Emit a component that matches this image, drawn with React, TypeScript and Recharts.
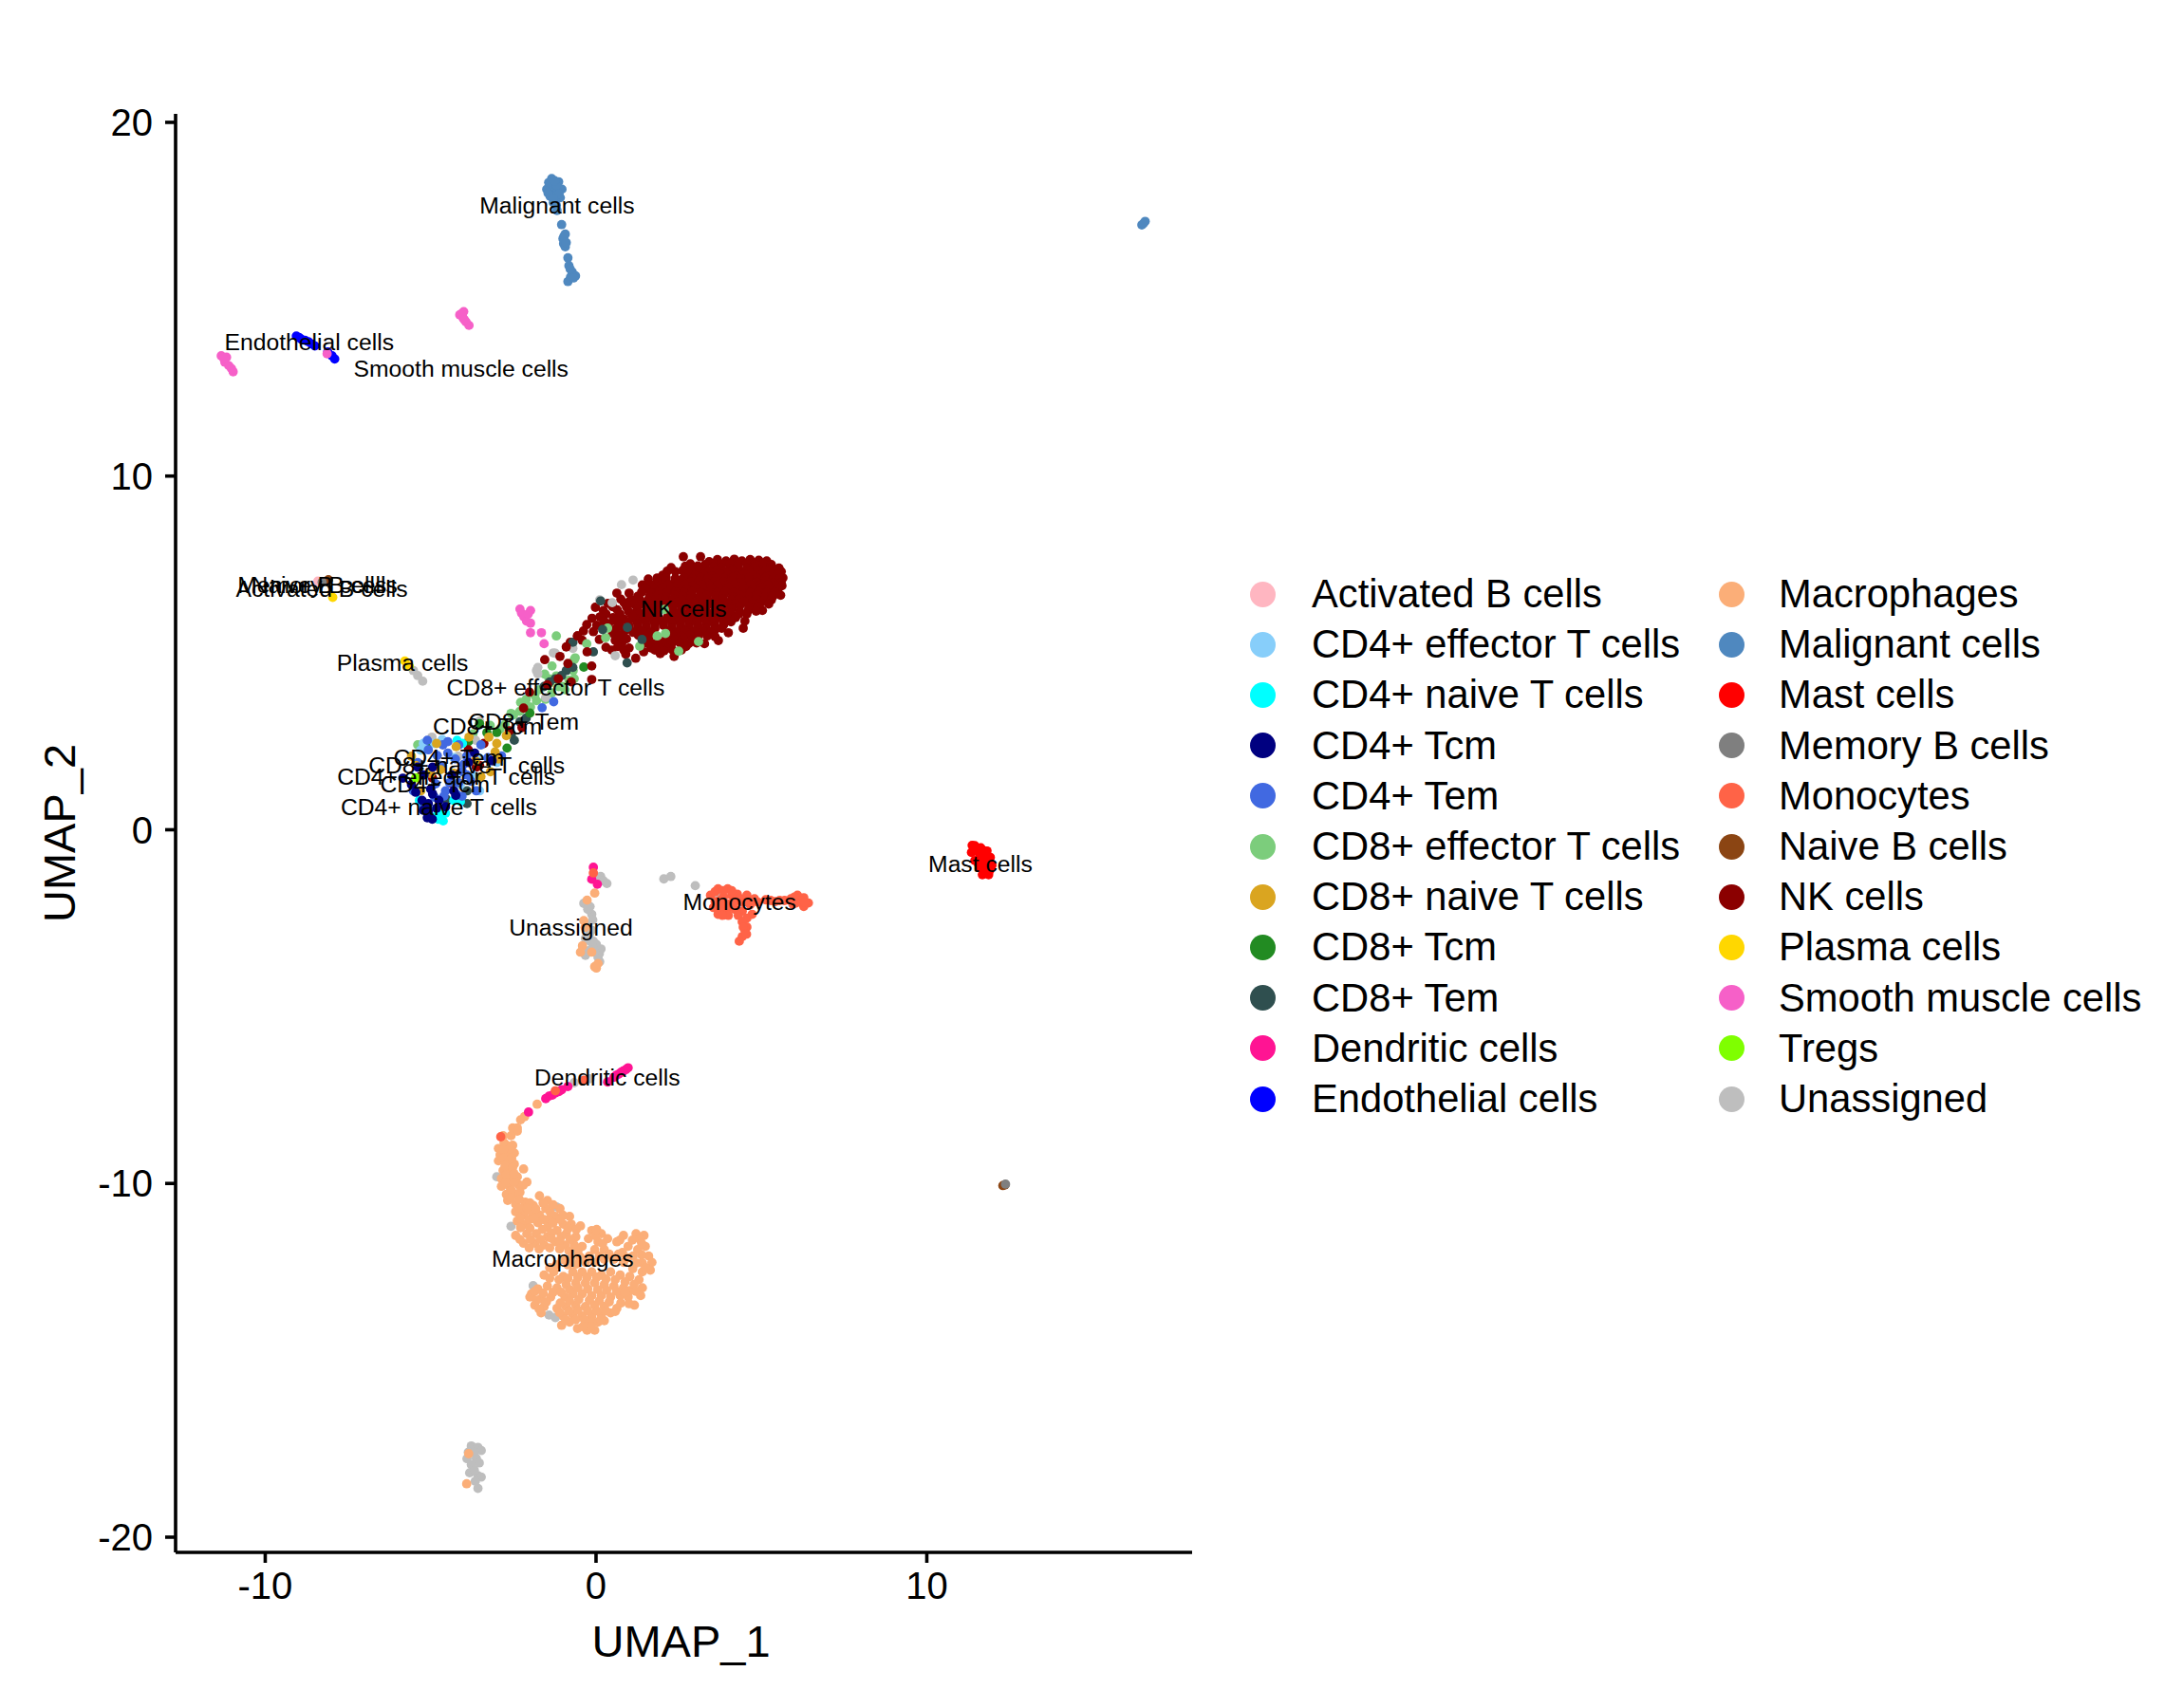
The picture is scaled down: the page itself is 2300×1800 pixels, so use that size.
import { ScatterChart, Scatter, XAxis, YAxis } from "recharts"

type Pair = [number, number]

const xTicks = [-10, 0, 10]
const yTicks = [-20, -10, 0, 10, 20]

const legendNames = [
  "Activated B cells", "CD4+ effector T cells", "CD4+ naive T cells", "CD4+ Tcm", "CD4+ Tem",
  "CD8+ effector T cells", "CD8+ naive T cells", "CD8+ Tcm", "CD8+ Tem", "Dendritic cells", "Endothelial cells",
  "Macrophages", "Malignant cells", "Mast cells", "Memory B cells", "Monocytes", "Naive B cells",
  "NK cells", "Plasma cells", "Smooth muscle cells", "Tregs", "Unassigned",
]
const legendColors = [
  "#FFB6C1", "#87CEFA", "#00FFFF", "#000080", "#4169E1",
  "#7CCD7C", "#DAA520", "#228B22", "#2F4F4F", "#FF1493", "#0000FF",
  "#FBAE78", "#4F88BF", "#FF0000", "#7F7F7F", "#FF6347", "#8B4513",
  "#8B0000", "#FFD700", "#F660C8", "#7FFF00", "#BEBEBE",
]

const activatedB: Pair[] = [[-8.41, 7.03], [-8.32, 6.98]]
const memoryB: Pair[] = [[-8.28, 7.0], [12.38, -10.02]]
const naiveB: Pair[] = [[-8.09, 7.07], [12.36, -10.04], [12.3, -10.06]]
const plasma: Pair[] = [[-7.96, 6.57], [-5.78, 4.77], [-5.65, 4.63]]
const tregs: Pair[] = [[-5.45, 1.47]]

const malignant: Pair[] = [
  [-1.34, 18.41], [-1.13, 18.32], [-1.49, 18.11], [-1.03, 18.11], [-1.29, 18.2], [-1.39, 17.91], [-1.08, 17.87],
  [-1.29, 17.73], [-1.18, 17.51], [-1.34, 18.0], [-1.18, 18.05], [-1.23, 17.87], [-1.43, 18.3], [-1.2, 18.22],
  [-1.45, 18.0], [-1.12, 17.98], [-1.3, 17.85], [-1.2, 17.65], [-1.25, 18.35],
  [-1.04, 17.11], [-0.93, 16.84], [-1.0, 16.71], [-0.98, 16.57], [-0.93, 16.48], [-0.97, 16.78], [-0.9, 16.6],
  [-0.85, 16.17], [-0.82, 15.95], [-0.72, 15.77], [-0.62, 15.66], [-0.77, 15.63], [-0.85, 15.5], [-0.78, 15.85], [-0.68, 15.6],
  [16.6, 17.2], [16.5, 17.1], [16.55, 17.14],
]
const endothelial: Pair[] = [
  [-9.06, 13.96], [-8.91, 13.87], [-8.8, 13.84], [-8.7, 13.8], [-8.5, 13.68], [-8.11, 13.51], [-7.98, 13.4], [-7.9, 13.31], [-8.98, 13.92], [-8.6, 13.74],
]
const smoothMuscle: Pair[] = [
  [-11.33, 13.4], [-11.17, 13.36], [-11.22, 13.22], [-11.02, 13.04], [-10.97, 12.95], [-11.25, 13.32], [-11.1, 13.12], [-8.13, 13.46],
  [-4.0, 14.65], [-4.12, 14.56], [-4.02, 14.47], [-3.93, 14.36], [-3.84, 14.26], [-4.05, 14.6], [-3.98, 14.42],
  [-2.3, 6.24], [-1.98, 6.2], [-2.18, 6.02], [-1.98, 5.84], [-1.98, 5.57], [-1.65, 5.57], [-1.57, 5.26], [-2.25, 6.12], [-2.1, 5.9], [-2.05, 6.1],
]
const mast: Pair[] = [
  [11.37, -0.44], [11.45, -0.45], [11.63, -0.51], [11.5, -0.6], [11.7, -0.58], [11.82, -0.6], [11.35, -0.64], [11.6, -0.75], [11.78, -0.74],
  [11.92, -0.78], [11.45, -0.87], [11.68, -0.9], [11.85, -0.88], [11.97, -1.0], [11.59, -1.05], [11.72, -1.04], [11.82, -1.09],
  [11.68, -1.27], [11.87, -1.27], [11.75, -1.18], [11.55, -0.95], [11.9, -1.15],
]
const monocytes: Pair[] = [
  [3.46, -1.85], [3.69, -1.67], [3.98, -1.67], [3.6, -2.03], [3.85, -1.9], [4.1, -1.85], [4.27, -1.82], [4.56, -1.85], [4.79, -1.95],
  [3.75, -2.21], [3.98, -2.1], [4.2, -2.03], [4.45, -2.05], [4.66, -2.12], [3.69, -2.39], [3.95, -2.32], [4.2, -2.25], [4.42, -2.3], [4.72, -2.39],
  [4.3, -2.42], [4.56, -2.5], [4.42, -2.6], [4.56, -2.75], [4.5, -2.84], [4.42, -3.02], [4.33, -3.15],
  [5.13, -1.98], [5.42, -2.03], [5.7, -2.0], [5.89, -1.95], [6.09, -1.85], [6.28, -1.92], [6.42, -2.07], [6.28, -2.17], [6.05, -2.07],
  [3.6, -1.75], [3.85, -1.72], [4.1, -1.72], [3.75, -2.0], [3.55, -2.2], [3.85, -2.2], [4.1, -2.15], [4.35, -1.95], [4.6, -2.0], [4.9, -2.05],
  [4.0, -2.42], [3.82, -2.42], [4.45, -2.75], [4.55, -2.95], [5.28, -2.0], [5.55, -2.0], [5.95, -2.1], [6.18, -2.0], [6.3, -2.05], [6.0, -1.9],
  [-0.37, -7.08], [-1.23, -7.38], [-2.88, -8.68], [-0.08, -1.22],
]
const macrophages: Pair[] = [
  [-1.78, -7.76], [-2.16, -8.11], [-2.28, -8.2], [-2.52, -8.43], [-2.38, -8.43], [-2.38, -8.52], [-2.81, -8.65], [-2.57, -8.65],
  [-2.95, -9.01], [-2.71, -8.92], [-2.52, -8.92], [-2.9, -9.19], [-2.67, -9.14], [-2.47, -9.14], [-2.95, -9.36], [-2.67, -9.36],
  [-2.47, -9.45], [-2.19, -9.59], [-2.81, -9.63], [-2.62, -9.63], [-2.86, -9.86], [-2.62, -9.86], [-2.38, -9.81], [-2.09, -9.96],
  [-2.86, -10.08], [-2.62, -10.08], [-2.33, -10.04], [-2.71, -10.31], [-2.47, -10.31], [-2.67, -10.48], [-2.43, -10.58], [-2.14, -10.53],
  [-1.9, -10.62], [-1.71, -10.35], [-1.47, -10.48], [-1.52, -10.71], [-1.09, -10.71], [-1.23, -10.93], [-0.8, -10.93], [-0.47, -11.2],
  [-2.43, -10.8], [-2.19, -10.89], [-1.95, -10.8], [-1.71, -10.89], [-1.42, -11.02], [-0.99, -11.15], [-0.75, -11.15],
  [-2.38, -11.06], [-2.14, -11.15], [-1.76, -11.11], [-1.47, -11.24], [-1.18, -11.33], [-0.9, -11.42], [-0.61, -11.51],
  [-2.43, -11.47], [-2.09, -11.42], [-1.81, -11.42], [-1.47, -11.51], [-2.19, -11.69], [-1.85, -11.69], [-1.57, -11.74],
  [-1.23, -11.65], [-0.94, -11.74], [-0.66, -11.74], [-0.42, -11.78],
  [-0.13, -11.33], [0.16, -11.42], [-0.23, -11.56], [0.06, -11.65], [0.35, -11.56], [-0.04, -11.87], [0.25, -11.87],
  [0.83, -11.47], [1.21, -11.42], [1.45, -11.47], [0.63, -11.65], [0.97, -11.78], [1.49, -11.78], [1.26, -11.87],
  [1.59, -12.05], [1.69, -12.23], [1.64, -12.45], [1.4, -12.5], [1.11, -12.41], [0.83, -12.23], [0.54, -12.14], [0.25, -12.14],
  [-0.04, -12.23], [-0.32, -12.23], [-0.6, -12.28], [-0.85, -12.3], [-1.2, -12.3],
  [-1.57, -12.59], [-1.28, -12.5], [-0.99, -12.63], [-0.7, -12.5], [-0.42, -12.5], [-0.13, -12.5], [0.16, -12.59], [0.44, -12.5],
  [0.73, -12.59], [1.02, -12.63], [1.3, -12.72], [1.4, -12.95], [1.35, -13.17], [1.16, -13.44],
  [-1.95, -13.12], [-1.76, -12.98], [-1.47, -12.9], [-1.18, -12.95], [-0.9, -12.86], [-0.61, -12.81], [-0.32, -12.81], [-0.04, -12.81],
  [0.25, -12.86], [0.54, -12.9], [0.83, -12.95], [1.02, -13.03],
  [-2.0, -13.21], [-1.66, -13.26], [-1.37, -13.21], [-0.94, -13.21], [-0.7, -13.12], [-0.42, -13.12], [-0.13, -13.17], [0.16, -13.17],
  [0.44, -13.21], [0.73, -13.17], [0.97, -13.21],
  [-1.85, -13.44], [-1.57, -13.48], [-1.18, -13.53], [-0.9, -13.48], [-0.61, -13.44], [-0.32, -13.48], [-0.04, -13.44], [0.25, -13.48], [0.63, -13.53],
  [-1.66, -13.66], [-0.99, -13.75], [-0.7, -13.7], [-0.42, -13.75], [-0.13, -13.75], [0.16, -13.7], [0.44, -13.66],
  [-1.04, -14.01], [-0.8, -13.92], [-0.56, -14.1], [-0.27, -14.15], [-0.04, -14.15], [0.25, -13.88], [0.06, -13.92], [-0.27, -13.92],
  [-2.78, -8.85], [-2.6, -9.0], [-2.8, -9.05], [-2.8, -9.28], [-2.55, -9.28], [-2.75, -9.5], [-2.52, -9.55], [-2.72, -9.75], [-2.48, -9.72],
  [-2.72, -9.97], [-2.48, -9.97], [-2.2, -10.05], [-2.55, -10.2], [-2.3, -10.25], [-2.58, -10.4], [-2.32, -10.45], [-2.0, -10.55],
  [-2.3, -10.7], [-2.08, -10.7], [-1.82, -10.72], [-1.6, -10.55], [-1.3, -10.6], [-1.38, -10.82], [-1.0, -10.9], [-2.3, -10.98], [-2.02, -11.02],
  [-1.88, -11.0], [-1.58, -11.02], [-1.3, -11.12], [-1.08, -11.02], [-0.85, -11.28], [-0.6, -11.3], [-2.28, -11.25], [-2.0, -11.26], [-1.62, -11.3],
  [-1.35, -11.4], [-1.05, -11.5], [-0.78, -11.58], [-2.3, -11.58], [-1.98, -11.58], [-1.68, -11.58], [-1.35, -11.55], [-1.1, -11.62],
  [-2.02, -11.82], [-1.72, -11.85], [-1.4, -11.82], [-1.1, -11.85], [-0.82, -11.9], [-0.55, -11.92],
  [-0.02, -11.48], [0.2, -11.7], [0.02, -11.3], [0.72, -11.6], [1.1, -11.6], [1.33, -11.58], [1.38, -11.7], [0.8, -11.95], [1.12, -12.05], [1.38, -12.02],
  [1.4, -12.25], [1.5, -12.38], [1.22, -12.25], [0.95, -12.1], [0.68, -12.0], [0.4, -12.0], [0.1, -12.05], [-0.2, -12.05], [-0.48, -12.08], [-0.75, -12.1],
  [-1.02, -12.15], [-1.4, -12.38],
  [-1.4, -12.68], [-1.12, -12.72], [-0.85, -12.68], [-0.55, -12.65], [-0.27, -12.65], [0.02, -12.65], [0.3, -12.7], [0.58, -12.72], [0.88, -12.78], [1.15, -12.85], [1.2, -13.05],
  [-1.85, -13.05], [-1.6, -13.1], [-1.3, -13.08], [-1.05, -13.08], [-0.8, -13.0], [-0.55, -12.95], [-0.25, -12.98], [0.05, -13.0], [0.32, -13.02], [0.62, -13.05], [0.88, -13.08],
  [-1.8, -13.3], [-1.5, -13.35], [-1.08, -13.38], [-0.8, -13.32], [-0.52, -13.28], [-0.2, -13.3], [0.1, -13.32], [0.4, -13.35], [0.75, -13.38], [1.0, -13.4],
  [-1.72, -13.55], [-1.1, -13.65], [-0.82, -13.6], [-0.55, -13.58], [-0.25, -13.6], [0.02, -13.6], [0.3, -13.6], [0.58, -13.62],
  [-0.92, -13.85], [-0.62, -13.85], [-0.35, -13.85], [-0.12, -13.92], [0.14, -13.85], [-0.4, -14.05], [-0.15, -14.05],
  [-0.04, -1.79], [-0.27, -1.99], [-0.37, -2.57], [-0.33, -2.76], [-0.41, -3.28], [-0.47, -3.46], [-0.13, -3.46],
  [-0.04, -3.87], [0.01, -3.91], [0.06, -3.78], [-3.91, -18.49], [-3.85, -17.64],
]
const dendritic: Pair[] = [
  [0.97, -6.73], [0.82, -6.82], [0.68, -6.91], [0.54, -7.0], [0.35, -7.13], [-0.85, -7.26], [-1.04, -7.35], [-1.23, -7.44],
  [-1.42, -7.53], [-1.52, -7.6], [-2.04, -7.98], [-0.08, -1.06], [-0.13, -1.4], [0.04, -1.54], [0.9, -6.78], [0.75, -6.86], [0.6, -6.95], [-1.12, -7.4], [-1.32, -7.5],
]
const unassigned: Pair[] = [
  [-0.66, -7.15], [-0.18, -7.04], [-3.0, -9.81], [-1.2, -10.66], [-2.57, -11.21], [-1.9, -12.89], [-1.42, -13.72], [-1.23, -13.79],
  [0.14, -1.32], [0.23, -1.45], [0.33, -1.52], [0.01, -1.4], [-0.37, -2.08], [-0.18, -2.17], [-0.13, -2.39], [-0.27, -2.7],
  [-0.13, -2.84], [-0.32, -3.07], [-0.08, -3.15], [0.01, -3.24], [0.15, -3.37], [-0.32, -3.55], [0.06, -3.6], [0.11, -3.73],
  [-0.2, -2.95], [-0.1, -3.3], [-0.22, -3.42], [-0.1, -2.55], [-0.25, -2.25], [-0.18, -3.15], [0.1, -3.5], [-0.05, -3.45],
  [2.05, -1.39], [2.26, -1.32], [3.0, -1.58], [3.69, -1.8],
  [-5.52, 4.5], [-5.39, 4.36], [-5.24, 4.2],
  [-3.77, -17.42], [-3.57, -17.46], [-3.86, -17.6], [-3.47, -17.55], [-3.9, -17.78], [-3.62, -17.77], [-3.77, -17.95], [-3.53, -17.9], [-3.68, -17.6],
  [-3.82, -18.18], [-3.57, -18.26], [-3.68, -18.1], [-3.47, -18.3], [-3.57, -18.62], [-3.65, -18.42],
  [-1.76, 4.59], [-1.76, 4.41], [-1.23, 4.99], [-0.7, 5.13], [-1.52, 3.74], [-3.52, 3.07], [-4.96, 2.62], [-3.64, 2.53], [-4.17, 2.08],
  [1.12, 7.06], [0.77, 6.93], [0.11, 6.5], [0.49, 6.42], [0.58, 4.92], [-0.71, 5.16], [-1.29, 5.0], [-1.8, 4.5],
]
const nkCells: Pair[] = [
  [2.64, 7.72], [3.16, 7.72], [3.42, 7.58], [3.67, 7.64], [3.93, 7.6], [4.18, 7.65], [4.41, 7.6], [4.66, 7.64], [4.92, 7.62], [5.16, 7.6],
  [2.85, 7.52], [3.3, 7.5], [3.55, 7.53], [3.8, 7.5], [4.05, 7.52], [4.3, 7.5], [4.55, 7.53], [4.8, 7.5], [5.05, 7.52], [5.3, 7.5],
  [2.27, 7.41], [2.7, 7.45], [2.93, 7.4], [3.08, 7.46], [3.31, 7.38], [3.56, 7.44], [3.79, 7.41], [4.04, 7.37], [4.29, 7.44], [4.56, 7.4], [4.8, 7.43], [5.06, 7.38], [5.31, 7.42], [5.53, 7.4],
  [2.15, 7.31], [2.4, 7.3], [2.62, 7.33], [2.88, 7.3], [3.15, 7.31], [3.4, 7.3], [3.65, 7.32], [3.9, 7.3], [4.13, 7.32], [4.38, 7.3], [4.64, 7.31], [4.88, 7.3], [5.13, 7.32], [5.38, 7.3], [5.6, 7.3],
  [2.02, 7.2], [2.8, 7.24], [3.0, 7.19], [3.25, 7.22], [3.5, 7.18], [3.74, 7.24], [3.99, 7.2], [4.24, 7.17], [4.49, 7.23], [4.75, 7.19], [5.0, 7.22], [5.24, 7.18], [5.5, 7.24], [5.65, 7.12],
  [1.85, 7.12], [2.12, 7.13], [2.4, 7.11], [2.65, 7.13], [2.92, 7.1], [3.17, 7.13], [3.4, 7.1], [3.64, 7.12], [3.88, 7.11], [4.12, 7.13], [4.38, 7.1], [4.62, 7.12], [4.88, 7.11], [5.12, 7.13], [5.38, 7.1], [5.58, 7.12],
  [1.58, 7.09], [1.85, 7.02], [2.1, 7.04], [2.36, 6.99], [2.6, 7.03], [2.86, 7.0], [3.12, 7.04], [3.36, 6.98], [3.6, 7.02], [3.86, 7.0], [4.1, 7.04], [4.36, 6.98], [4.6, 7.02], [4.86, 7.0], [5.12, 7.03], [5.36, 6.98], [5.6, 6.98],
  [1.4, 6.92], [1.65, 6.93], [1.92, 6.9], [2.18, 6.92], [2.44, 6.9], [2.7, 6.93], [2.94, 6.91], [3.2, 6.92], [3.44, 6.9], [3.68, 6.92], [3.94, 6.9], [4.18, 6.93], [4.44, 6.9], [4.68, 6.92], [4.94, 6.9], [5.2, 6.92], [5.44, 6.9], [5.62, 6.9],
  [1.5, 6.82], [1.76, 6.78], [2.0, 6.84], [2.24, 6.8], [2.5, 6.82], [2.74, 6.78], [3.0, 6.84], [3.24, 6.8], [3.48, 6.82], [3.74, 6.78], [3.98, 6.84], [4.24, 6.8], [4.48, 6.82], [4.74, 6.78], [5.0, 6.84], [5.24, 6.8], [5.5, 6.8],
  [1.38, 6.72], [1.64, 6.7], [1.9, 6.73], [2.14, 6.7], [2.4, 6.72], [2.66, 6.7], [2.9, 6.73], [3.16, 6.7], [3.42, 6.72], [3.66, 6.7], [3.92, 6.73], [4.16, 6.7], [4.42, 6.72], [4.66, 6.7], [4.92, 6.73], [5.16, 6.7], [5.42, 6.72],
  [1.0, 6.69], [0.63, 6.69], [1.26, 6.6], [1.62, 6.6], [1.88, 6.64], [2.12, 6.58], [2.38, 6.62], [2.62, 6.6], [2.88, 6.64], [3.12, 6.58], [3.36, 6.62], [3.62, 6.6], [3.86, 6.64], [4.12, 6.58], [4.36, 6.62], [4.6, 6.6], [4.86, 6.64], [5.1, 6.58], [5.36, 6.62], [5.58, 6.63],
  [0.75, 6.52], [1.05, 6.5], [1.32, 6.52], [1.58, 6.5], [1.84, 6.53], [2.08, 6.5], [2.34, 6.52], [2.6, 6.5], [2.84, 6.53], [3.1, 6.5], [3.34, 6.52], [3.6, 6.5], [3.84, 6.53], [4.1, 6.5], [4.34, 6.52], [4.6, 6.5], [4.84, 6.53], [5.1, 6.5], [5.3, 6.5],
  [-0.02, 6.29], [0.36, 6.4], [0.85, 6.42], [1.14, 6.38], [1.4, 6.42], [1.7, 6.38], [1.96, 6.42], [2.2, 6.4], [2.46, 6.44], [2.72, 6.38], [2.98, 6.42], [3.22, 6.4], [3.48, 6.44], [3.72, 6.38], [3.98, 6.42], [4.22, 6.4], [4.48, 6.44], [4.74, 6.38], [4.98, 6.42], [5.22, 6.38],
  [0.5, 6.31], [0.92, 6.3], [1.28, 6.32], [1.56, 6.3], [1.82, 6.31], [2.08, 6.3], [2.32, 6.32], [2.58, 6.3], [2.84, 6.31], [3.1, 6.3], [3.34, 6.32], [3.6, 6.3], [3.86, 6.31], [4.1, 6.3], [4.34, 6.32], [4.62, 6.3], [4.9, 6.3],
  [0.22, 6.2], [0.64, 6.22], [0.98, 6.18], [1.24, 6.22], [1.52, 6.18], [1.78, 6.24], [2.34, 6.18], [2.58, 6.22], [2.84, 6.2], [3.1, 6.24], [3.34, 6.18], [3.6, 6.22], [3.84, 6.2], [4.1, 6.24], [4.34, 6.18], [4.6, 6.2], [5.03, 6.2], [4.84, 6.18],
  [0.3, 6.1], [0.72, 6.1], [1.06, 6.1], [1.32, 6.12], [1.6, 6.1], [1.86, 6.1], [2.28, 6.1], [2.54, 6.12], [2.8, 6.1], [3.04, 6.1], [3.3, 6.12], [3.56, 6.1], [3.8, 6.1], [4.06, 6.12], [4.32, 6.1], [4.56, 6.1],
  [-0.12, 5.98], [0.12, 6.02], [0.52, 6.0], [0.84, 5.96], [1.12, 6.02], [1.38, 5.98], [1.64, 6.02], [1.9, 5.98], [2.16, 6.02], [2.42, 5.98], [2.68, 6.02], [2.94, 5.98], [3.2, 6.02], [3.44, 5.98], [3.7, 6.02], [3.96, 5.98], [4.22, 6.0], [4.5, 5.9],
  [0.24, 5.9], [0.62, 5.9], [0.98, 5.88], [1.24, 5.9], [1.5, 5.9], [1.76, 5.9], [2.02, 5.88], [2.28, 5.9], [2.54, 5.9], [2.8, 5.9], [3.06, 5.88], [3.32, 5.9], [3.58, 5.9], [3.84, 5.9], [4.08, 5.88],
  [-0.28, 5.8], [0.02, 5.78], [0.38, 5.82], [0.72, 5.8], [1.0, 5.76], [1.26, 5.82], [1.52, 5.78], [1.78, 5.82], [2.04, 5.78], [2.3, 5.82], [2.56, 5.78], [2.82, 5.82], [3.08, 5.78], [3.34, 5.82], [3.6, 5.76], [3.86, 5.8], [4.45, 5.7],
  [0.22, 5.7], [0.62, 5.7], [0.98, 5.68], [1.26, 5.7], [1.52, 5.7], [1.78, 5.7], [2.3, 5.7], [2.56, 5.68], [2.82, 5.7], [3.08, 5.7], [3.34, 5.68], [3.6, 5.66], [3.8, 5.7],
  [-0.56, 5.48], [-0.38, 5.62], [-0.08, 5.6], [0.5, 5.56], [0.86, 5.62], [1.12, 5.58], [1.4, 5.62], [1.66, 5.58], [2.18, 5.62], [2.44, 5.58], [2.7, 5.62], [2.96, 5.58], [3.22, 5.62], [3.48, 5.58], [4.0, 5.57],
  [0.72, 5.5], [1.28, 5.5], [1.54, 5.5], [2.32, 5.5], [2.58, 5.48], [2.84, 5.5], [3.1, 5.5], [3.36, 5.48], [3.6, 5.46],
  [-0.78, 5.3], [-0.42, 5.36], [0.1, 5.38], [0.58, 5.36], [0.92, 5.4], [1.6, 5.38], [1.86, 5.32], [2.12, 5.4], [2.38, 5.36], [2.64, 5.4], [2.9, 5.36], [3.7, 5.35],
  [0.78, 5.28], [1.5, 5.28], [1.76, 5.25], [2.02, 5.28], [2.28, 5.26], [2.54, 5.28], [2.8, 5.26], [3.04, 5.28], [3.28, 5.26],
  [0.3, 5.16], [0.66, 5.18], [1.0, 5.14], [1.66, 5.14], [1.92, 5.18], [2.18, 5.14], [2.72, 5.18], [1.44, 5.03], [1.94, 4.98], [0.9, 4.96], [2.36, 4.9], [1.2, 4.85],
  [0.48, 5.08], [0.84, 5.08], [1.78, 5.08], [2.06, 5.06], [2.32, 5.08], [2.58, 5.08],
]
const nkStrand: Pair[] = [
  [-1.55, 4.81], [-1.09, 4.9], [-0.85, 4.7], [-0.9, 5.17], [-0.56, 5.48], [-0.13, 4.25], [-0.13, 4.63], [-0.27, 5.03], [-1.14, 4.27], [-0.75, 4.18],
  [-1.47, 4.1], [-2.01, 3.89], [-2.19, 3.44], [-2.62, 2.8], [-2.24, 2.89], [-3.39, 2.44], [-3.86, 2.26], [-3.62, 1.77], [-3.52, 1.82], [-4.94, 1.46], [-4.4, 1.32],
]
const cd8Effector: Pair[] = [
  [3.1, 5.32], [2.5, 5.05], [1.85, 5.48], [1.32, 5.19], [-1.2, 5.48], [0.29, 5.43], [-0.28, 5.26], [2.07, 6.23], [2.1, 5.55], [0.35, 5.7],
  [-1.33, 4.63], [-0.66, 4.81], [-0.66, 4.27], [-1.42, 4.27], [-0.94, 3.96], [-1.13, 4.05], [-1.8, 3.65], [-2.28, 3.6], [-2.1, 3.51], [-2.57, 3.29],
  [-0.63, 4.86], [-1.4, 4.14], [-1.72, 3.96], [-2.11, 3.69], [-1.98, 3.47], [-1.53, 3.69], [-1.34, 3.87], [-1.01, 4.05], [-0.82, 4.23],
  [-0.69, 4.5], [-2.49, 3.25], [-2.75, 2.98], [-5.39, 2.4], [-3.72, 2.71], [-1.55, 4.4], [-1.2, 4.35], [-1.85, 3.8], [-2.3, 3.35], [-2.9, 2.85], [-3.2, 2.95],
]
const cd8Tem: Pair[] = [
  [-0.9, 4.5], [-1.04, 4.36], [-0.7, 4.59], [-1.23, 4.27], [-1.57, 4.05], [-1.4, 4.18], [0.2, 5.66], [-0.08, 5.03], [-0.7, 5.3], [0.94, 4.72], [1.39, 5.38], [0.14, 6.47],
  [-2.11, 3.16], [-2.47, 2.53], [-2.56, 2.71], [-3.9, 1.1], [-4.53, 0.87], [-3.9, 0.74], [0.95, 5.72], [-2.3, 3.05],
]
const cd8Tcm: Pair[] = [[-0.37, 4.6], [-3.86, 2.49], [-2.69, 2.31], [-3.52, 3.0], [-5.1, 2.32], [-3.0, 2.75], [-2.0, 3.3], [-3.3, 2.75]]
const cd8Naive: Pair[] = [
  [-3.84, 2.62], [-3.24, 2.62], [-3.0, 2.44], [-2.71, 2.66], [-4.82, 2.44], [-4.23, 2.35], [-5.58, 2.08], [-5.45, 1.82], [-3.19, 1.64],
  [-5.0, 1.59], [-3.65, 1.95], [-5.3, 1.1], [-4.3, 1.6], [-3.05, 2.2], [-3.48, 1.5], [-4.7, 1.7], [-2.95, 2.0],
]
const cd4Tem: Pair[] = [
  [-1.63, 3.45], [-1.28, 3.62], [-2.86, 2.09], [-3.48, 2.4], [-5.1, 2.53], [-4.48, 2.49], [-4.63, 2.4], [-4.15, 2.4], [-3.91, 2.08], [-4.68, 1.82], [-5.39, 1.9],
  [-5.52, 1.1], [-4.55, 1.1], [-4.04, 1.64], [-3.78, 1.37], [-4.88, 0.92], [-4.23, 1.01], [-5.07, 2.26], [-3.27, 2.04], [-4.48, 2.17], [-4.25, 2.0], [-4.43, 1.33],
  [-4.15, 1.33], [-3.91, 1.55], [-3.62, 1.1], [-4.85, 1.3], [-4.05, 0.95], [-5.2, 0.65], [-4.6, 0.95], [-4.8, 2.1], [-4.0, 1.85],
]
const cd4Tcm: Pair[] = [
  [-5.1, 0.34], [-5.07, 0.52], [-5.26, 0.83], [-5.45, 1.06], [-4.94, 1.01], [-5.84, 1.46], [-4.94, 1.77], [-4.75, 0.83], [-5.07, 0.74],
  [-5.58, 1.28], [-3.67, 2.17], [-3.14, 1.95], [-4.3, 1.1], [-4.55, 0.65], [-4.82, 0.61], [-5.2, 1.55], [-4.36, 1.55], [-5.0, 1.15], [-5.39, 1.77], [-4.24, 0.97],
  [-3.85, 1.9], [-5.22, 0.55], [-4.95, 0.3],
]
const cd4Naive: Pair[] = [
  [-4.77, 0.3], [-4.84, 0.38], [-4.68, 0.43], [-4.2, 2.53], [-4.04, 2.44], [-4.3, 0.83], [-4.55, 0.47], [-4.1, 0.8], [-5.34, 0.83], [-5.25, 0.65], [-4.62, 0.25],
]
const cd4Effector: Pair[] = [
  [-5.22, 2.44], [-4.3, 2.04], [-3.52, 1.1], [-3.0, 1.9], [-4.1, 1.28], [-4.88, 2.44], [-3.72, 1.55], [-3.6, 2.05], [-4.65, 2.55], [-5.3, 2.25],
]

const labelNames = [
  "Malignant cells", "Endothelial cells", "Smooth muscle cells", "Memory B cells", "Naive B cells", "Activated B cells",
  "Plasma cells", "NK cells", "CD8+ effector T cells", "CD8+ Tem", "CD8+ Tcm", "CD4+ Tem", "CD8+ naive T cells",
  "CD4+ effector T cells", "CD4+ Tcm", "CD4+ naive T cells", "Mast cells", "Monocytes", "Unassigned", "Dendritic cells", "Macrophages",
]
const labelX = [-1.18, -8.67, -4.08, -8.42, -8.38, -8.29, -5.85, 2.65, -1.22, -2.19, -3.28, -4.45, -3.91, -4.53, -4.87, -4.75, 11.62, 4.34, -0.76, 0.34, -1.01]
const labelY = [17.64, 13.78, 13.03, 6.93, 6.93, 6.81, 4.72, 6.26, 4.02, 3.07, 2.91, 2.04, 1.83, 1.5, 1.3, 0.65, -0.98, -2.05, -2.76, -7.01, -12.13]

const clusterLabels = labelNames.map((name, i) => ({ x: labelX[i], y: labelY[i], name }))

const font = "'Liberation Sans', Arial, sans-serif"

// drawn in this order, later ones on top
const layers: { points: Pair[]; color: string }[] = [
  { points: nkCells, color: "#8B0000" },
  { points: cd8Effector, color: "#7CCD7C" },
  { points: unassigned, color: "#BEBEBE" },
  { points: cd8Tem, color: "#2F4F4F" },
  { points: cd8Tcm, color: "#228B22" },
  { points: nkStrand, color: "#8B0000" },
  { points: cd4Effector, color: "#87CEFA" },
  { points: cd4Naive, color: "#00FFFF" },
  { points: cd4Tem, color: "#4169E1" },
  { points: cd8Naive, color: "#DAA520" },
  { points: cd4Tcm, color: "#000080" },
  { points: tregs, color: "#7FFF00" },
  { points: macrophages, color: "#FBAE78" },
  { points: dendritic, color: "#FF1493" },
  { points: monocytes, color: "#FF6347" },
  { points: malignant, color: "#4F88BF" },
  { points: endothelial, color: "#0000FF" },
  { points: smoothMuscle, color: "#F660C8" },
  { points: mast, color: "#FF0000" },
  { points: activatedB, color: "#FFB6C1" },
  { points: naiveB, color: "#8B4513" },
  { points: memoryB, color: "#7F7F7F" },
  { points: plasma, color: "#FFD700" },
]

function CellDot(props: any) {
  return <circle cx={props.cx} cy={props.cy} r={4.9} fill={props.fill} />
}

function ClusterLabel(props: any) {
  return (
    <text x={props.cx} y={props.cy} textAnchor="middle" dominantBaseline="central" fontSize={24.7} fontFamily={font} fill="#000">
      {props.payload.name}
    </text>
  )
}

function LegendBlock() {
  return (
    <>
      {legendNames.map((name, i) => {
        const col = i < 11 ? 0 : 1
        const row = i < 11 ? i : i - 11
        const top = 626 + row * 53.2
        return (
          <div key={name}>
            <div
              style={{
                position: "absolute",
                left: col === 0 ? 1317 : 1811,
                top: top - 13.5,
                width: 27,
                height: 27,
                borderRadius: "50%",
                background: legendColors[i],
              }}
            />
            <div
              style={{
                position: "absolute",
                left: col === 0 ? 1382 : 1874,
                top: top - 26,
                height: 52,
                lineHeight: "52px",
                fontSize: 41.7,
                fontFamily: font,
                color: "#000",
                whiteSpace: "nowrap",
              }}
            >
              {name}
            </div>
          </div>
        )
      })}
    </>
  )
}

export default function App() {
  const tick = { fill: "#000", fontSize: 40, fontFamily: font }
  const axisLine = { stroke: "#000", strokeWidth: 3.6 }
  return (
    <div style={{ position: "absolute", left: 0, top: 0, width: 2300, height: 1800, background: "#fff" }}>
      <ScatterChart width={2300} height={1800} margin={{ top: 120, right: 1044, bottom: 0, left: 0 }}>
        <XAxis
          type="number"
          dataKey="x"
          domain={[-12.71, 18.02]}
          ticks={xTicks}
          allowDataOverflow
          height={164}
          tick={tick}
          tickSize={11}
          tickMargin={10}
          axisLine={axisLine}
          tickLine={axisLine}
          label={{ value: "UMAP_1", position: "insideBottom", dx: -3, offset: 54, fontSize: 47, fontFamily: font, fill: "#000" }}
        />
        <YAxis
          type="number"
          dataKey="y"
          domain={[-20.43, 20.24]}
          ticks={yTicks}
          allowDataOverflow
          width={185}
          tick={tick}
          tickSize={11}
          tickMargin={13}
          axisLine={axisLine}
          tickLine={axisLine}
          label={{ value: "UMAP_2", angle: -90, position: "insideLeft", offset: 62, fontSize: 47, fontFamily: font, fill: "#000", style: { textAnchor: "middle" } }}
        />
        {layers.map((layer, i) => (
          <Scatter
            key={i}
            data={layer.points.map(([x, y]) => ({ x, y }))}
            fill={layer.color}
            shape={CellDot}
            isAnimationActive={false}
          />
        ))}
        <Scatter data={clusterLabels} shape={ClusterLabel} isAnimationActive={false} />
      </ScatterChart>
      <LegendBlock />
    </div>
  )
}
